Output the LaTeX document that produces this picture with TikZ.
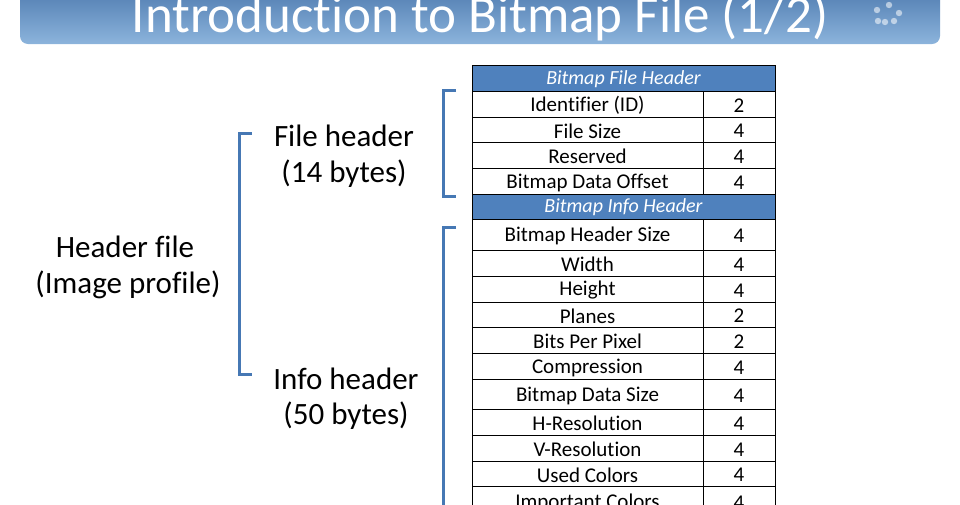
\documentclass[tikz,border=0pt]{standalone}
\usepackage{fontspec}
\setmainfont[RawFeature=-liga]{Carlito}
\begin{document}
\begin{tikzpicture}[x=1pt,y=-1pt,
  brk/.style={draw={rgb,255:red,70;green,120;blue,180},line width=3pt},
  big/.style={font=\fontsize{31}{34}\selectfont},
  cell/.style={font=\fontsize{21}{24}\selectfont,anchor=center},
  hdr/.style={font=\fontsize{20}{24}\selectfont\itshape,text=white}]
\definecolor{tb}{RGB}{79,129,189}
\definecolor{tbl}{RGB}{140,180,220}
\useasboundingbox (0,0) rectangle (960,504);
\begin{scope}
\clip (0,0) rectangle (960,504);
\shade[top color=tb!90!black, bottom color=tbl, rounded corners=8pt] (20,-20) rectangle (940,44);
\node[text=white,font=\fontsize{53}{56}\selectfont] (title) at (480,17) {Introduction to Bitmap File (1/2)};
\foreach \p in {(877,10),(889,5),(899,13),(885,22),(894,21),(878,21)} \fill[white,opacity=0.55] \p circle (3.2);
% table
\fill[tb] (472,65) rectangle (775,91);
\fill[tb] (472,194) rectangle (775,219);
\node[hdr] (h1) at (623.5,79) {Bitmap File Header};
\node[hdr] (h2) at (623.5,207.5) {Bitmap Info Header};
\draw[line width=0.8pt] (472,65) rectangle (775,516);
\foreach \y in {91,117,142,168,194,219,250,276,302,327,353,379,409,435,461,486} \draw[line width=0.8pt] (472,\y) -- (775,\y);
\draw[line width=0.8pt] (703,91) -- (703,194);
\draw[line width=0.8pt] (703,219) -- (703,516);
\foreach \a/\b/\t/\v in {91/117/Identifier (ID)/2,117/142/File Size/4,142/168/Reserved/4,168/194/Bitmap Data Offset/4,219/250/Bitmap Header Size/4,250/276/Width/4,276/302/Height/4,302/327/Planes/2,327/353/Bits Per Pixel/2,353/379/Compression/4,379/409/Bitmap Data Size/4,409/435/H-Resolution/4,435/461/V-Resolution/4,461/486/Used Colors/4,486/516/Important Colors/4}{
  \node[cell] at (587.5,{(\a+\b)/2+1.5}) {\t};
  \node[cell] at (739,{(\a+\b)/2+1.5}) {\v};
}
% brackets
\draw[brk] (252,133) -- (239,133) -- (239,374) -- (252,374);
\draw[brk] (456,90) -- (443,90) -- (443,196) -- (456,196);
\draw[brk] (456,227) -- (443,227) -- (443,520);
\node[big] (hf1) at (125,247) {Header file};
\node[big] (hf2) at (128,285) {(Image profile)};
\node[big] (fh1) at (344,136) {File header};
\node[big] (fh2) at (344,174) {(14 bytes)};
\node[big] (ih1) at (346,379) {Info header};
\node[big] (ih2) at (346,416) {(50 bytes)};
\end{scope}
\end{tikzpicture}
\end{document}
